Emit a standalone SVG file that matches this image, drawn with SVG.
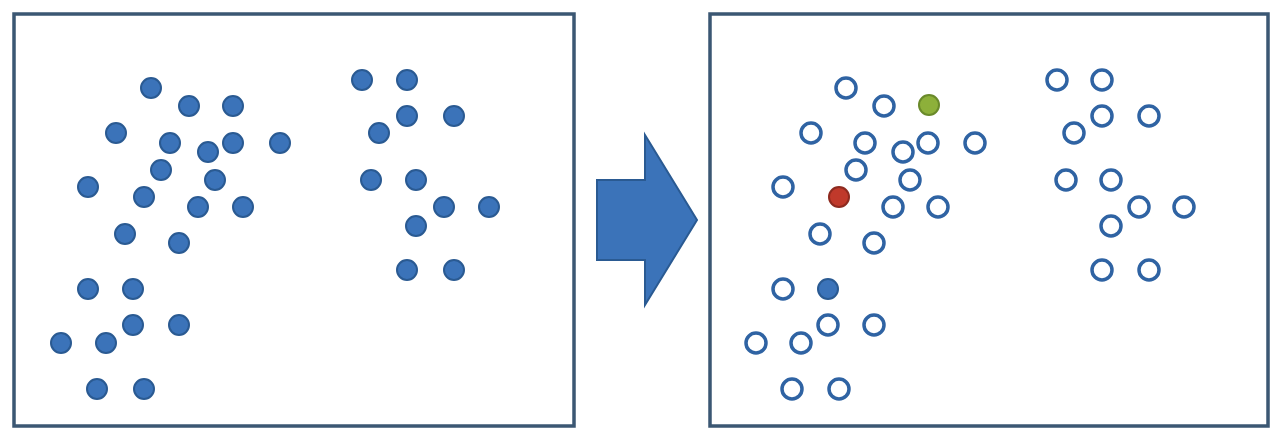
<svg xmlns="http://www.w3.org/2000/svg" width="1280" height="442" viewBox="0 0 1280 442">
<style>
.panel{fill:#fff;stroke:#3b5773;stroke-width:3.5}
.d{fill:#3b73b9;stroke:#2a5a92;stroke-width:2}
.h{fill:#fff;stroke:#2f63a3;stroke-width:3.5}
</style>
<defs>
<circle id="c" r="10"/>
</defs>
<rect width="1280" height="442" fill="#fff"/>
<rect class="panel" x="14" y="14" width="560" height="412"/>
<rect class="panel" x="710" y="14" width="558" height="412"/>
<polygon points="597,180 645,180 645,135 697,220 645,305 645,260 597,260" fill="#3b73b9" stroke="#2a5a92" stroke-width="2"/>
<g id="left" class="d">
<use href="#c" x="151" y="88"/><use href="#c" x="189" y="106"/><use href="#c" x="233" y="106"/><use href="#c" x="116" y="133"/><use href="#c" x="170" y="143"/><use href="#c" x="208" y="152"/><use href="#c" x="233" y="143"/><use href="#c" x="280" y="143"/><use href="#c" x="161" y="170"/><use href="#c" x="215" y="180"/><use href="#c" x="88" y="187"/><use href="#c" x="144" y="197"/><use href="#c" x="198" y="207"/><use href="#c" x="243" y="207"/><use href="#c" x="125" y="234"/><use href="#c" x="179" y="243"/><use href="#c" x="88" y="289"/><use href="#c" x="133" y="289"/><use href="#c" x="133" y="325"/><use href="#c" x="179" y="325"/><use href="#c" x="61" y="343"/><use href="#c" x="106" y="343"/><use href="#c" x="97" y="389"/><use href="#c" x="144" y="389"/>
<use href="#c" x="362" y="80"/><use href="#c" x="407" y="80"/><use href="#c" x="407" y="116"/><use href="#c" x="454" y="116"/><use href="#c" x="379" y="133"/><use href="#c" x="371" y="180"/><use href="#c" x="416" y="180"/><use href="#c" x="444" y="207"/><use href="#c" x="489" y="207"/><use href="#c" x="416" y="226"/><use href="#c" x="407" y="270"/><use href="#c" x="454" y="270"/>
</g>
<g id="right" class="h" transform="translate(695,0)">
<use href="#c" x="151" y="88"/><use href="#c" x="189" y="106"/><use href="#c" x="116" y="133"/><use href="#c" x="170" y="143"/><use href="#c" x="208" y="152"/><use href="#c" x="233" y="143"/><use href="#c" x="280" y="143"/><use href="#c" x="161" y="170"/><use href="#c" x="215" y="180"/><use href="#c" x="88" y="187"/><use href="#c" x="198" y="207"/><use href="#c" x="243" y="207"/><use href="#c" x="125" y="234"/><use href="#c" x="179" y="243"/><use href="#c" x="88" y="289"/><use href="#c" x="133" y="325"/><use href="#c" x="179" y="325"/><use href="#c" x="61" y="343"/><use href="#c" x="106" y="343"/><use href="#c" x="97" y="389"/><use href="#c" x="144" y="389"/>
<use href="#c" x="362" y="80"/><use href="#c" x="407" y="80"/><use href="#c" x="407" y="116"/><use href="#c" x="454" y="116"/><use href="#c" x="379" y="133"/><use href="#c" x="371" y="180"/><use href="#c" x="416" y="180"/><use href="#c" x="444" y="207"/><use href="#c" x="489" y="207"/><use href="#c" x="416" y="226"/><use href="#c" x="407" y="270"/><use href="#c" x="454" y="270"/>
<use href="#c" x="133" y="289" class="d"/>
<use href="#c" x="144" y="197" fill="#c0392b" stroke="#8e2a1f" stroke-width="2"/>
<use href="#c" x="234" y="105" fill="#8db03a" stroke="#6a8a2a" stroke-width="2"/>
</g>
</svg>
